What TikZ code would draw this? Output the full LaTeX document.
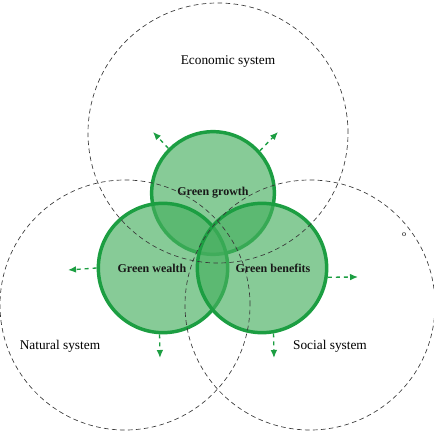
\documentclass[tikz,border=0pt]{standalone}
\usepackage{fontspec}
\setmainfont{Liberation Serif}
\usetikzlibrary{arrows.meta}
\definecolor{gline}{RGB}{28,158,66}
\definecolor{gfill}{RGB}{70,175,95}
\begin{document}
\begin{tikzpicture}[x=0.75pt, y=0.75pt, font=\fontsize{10}{12}\selectfont, >={Latex[length=6pt,width=5pt]},
          sysc/.style={dash pattern=on 3.5pt off 2.5pt, gray!45!black, line width=0.5pt},
          gcirc/.style={circle, draw=gline, line width=2.6pt, fill=gfill, fill opacity=0.65, text opacity=1, minimum size=97pt, inner sep=0pt},
          glab/.style={font=\fontsize{9}{11}\selectfont\bfseries, text=black!90},
          garr/.style={->, dashed, gline, line width=1pt}]
        \useasboundingbox (0,0) rectangle (434,432);
        % green circles
        \node[gcirc, minimum size=92pt] (growth) at (213,239) {};
        \node[gcirc] (wealth) at (163,164) {};
        \node[gcirc] (benefits) at (262,164) {};
        \node[glab] (lgrowth) at (213,239) {Green growth};
        \node[glab] (lwealth) at (152,164) {Green wealth};
        \node[glab] (lbenefits) at (273,164) {Green benefits};
        % systems
        \draw[sysc] (218,299) circle (130);
        \draw[sysc] (125,127) circle (125);
        \draw[sysc] (310,127) circle (125);
        \node (econ) at (228,370) {Economic system};
        \node (nat) at (60,86) {Natural system};
        \node (soc) at (330,86) {Social system};
        \node[font=\fontsize{6}{7}\selectfont] (mark) at (404,197) {o};
        % arrows
        \coordinate (tgl) at (153,300);
        \coordinate (tgr) at (278,300);
        \coordinate (twl) at (68,162);
        \coordinate (tbr) at (358,155);
        \coordinate (twb) at (160,74);
        \coordinate (tbb) at (274,74);
        \draw[garr] (growth.135) -- (tgl);
        \draw[garr] (growth.42) -- (tgr);
        \draw[garr] (wealth.west) -- (twl);
        \draw[garr] (benefits.-8) -- (tbr);
        \draw[garr] (wealth.-93) -- (twb);
        \draw[garr] (benefits.-80) -- (tbb);
\end{tikzpicture}
\end{document}
